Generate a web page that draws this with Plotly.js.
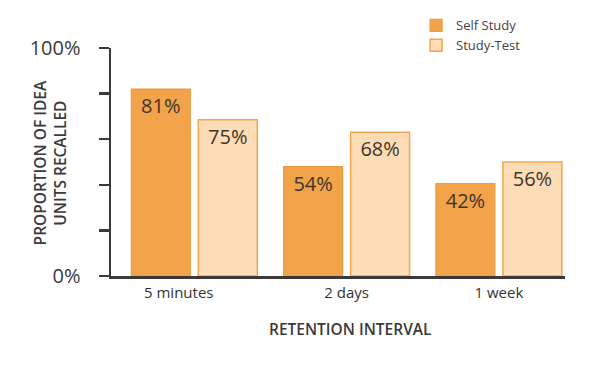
<!DOCTYPE html>
<html>
<head>
<meta charset="utf-8">
<script src="https://cdn.plot.ly/plotly-3.0.1.min.js"></script>
<style>html,body{margin:0;padding:0;background:#fff;}#chart{width:599px;height:365px;}</style>
</head>
<body>
<div id="chart"></div>
<script>
// Data
const categories = ["5 minutes", "2 days", "1 week"];
const seriesNames = ["Self Study", "Study-Test"];
const selfStudyHeights = [82, 48, 40.5];
const studyTestHeights = [68.5, 63, 50];
const selfStudyLabels = ["81%", "54%", "42%"];
const studyTestLabels = ["75%", "68%", "56%"];
const yTickVals = [0, 20, 40, 60, 80, 100];
const yTickText = ["0%", "", "", "", "", "100%"];

const labelFont = {family: "Open Sans, sans-serif", size: 20, color: "#3e352c"};

const traces = [
  {
    type: "bar", name: seriesNames[0], x: categories, y: selfStudyHeights,
    text: selfStudyLabels, textposition: "inside", insidetextanchor: "end",
    textangle: 0, insidetextfont: labelFont, hoverinfo: "none",
    marker: {color: "#F3A349", line: {color: "#EE9B3F", width: 1.2}}
  },
  {
    type: "bar", name: seriesNames[1], x: categories, y: studyTestHeights,
    text: studyTestLabels, textposition: "inside", insidetextanchor: "end",
    textangle: 0, insidetextfont: labelFont, hoverinfo: "none",
    marker: {color: "#FEDCB6", line: {color: "#F2A64E", width: 1.5}}
  }
];

const layout = {
  width: 599, height: 365,
  margin: {l: 111, r: 34, t: 47, b: 89},
  paper_bgcolor: "#fff", plot_bgcolor: "#fff",
  font: {family: "Open Sans, sans-serif", color: "#3a3a3a"},
  barmode: "group", bargap: 0.12, bargroupgap: 0.12,
  showlegend: true,
  legend: {x: 0.672, xanchor: "left", y: 1.16, yanchor: "top",
           font: {size: 13, color: "#444"}, tracegroupgap: 0,
           bgcolor: "rgba(0,0,0,0)"},
  xaxis: {
    type: "category", range: [-0.547, 2.434],
    showline: true, linecolor: "#3a3a3a", linewidth: 2.5,
    ticks: "", showgrid: false, zeroline: false,
    tickfont: {size: 15, color: "#333"},
    ticktext: ["5 minutes\u00A0\u00A0\u00A0\u00A0\u00A0\u00A0\u00A0\u00A0", "2 days", "1 week"],
    tickvals: categories, ticklabelstandoff: 1
  },
  yaxis: {
    range: [0, 100], showline: true, linecolor: "#3a3a3a", linewidth: 2.5,
    ticks: "outside", ticklen: 10, tickwidth: 2.5, tickcolor: "#3a3a3a",
    tickvals: yTickVals, ticktext: yTickText,
    tickfont: {size: 20, color: "#3a3a3a"},
    showgrid: false, zeroline: false, ticklabelstandoff: 14
  },
  annotations: [
    {text: "RETENTION INTERVAL", xref: "paper", yref: "paper", x: 0.526, y: -0.231,
     xanchor: "center", yanchor: "middle", showarrow: false,
     font: {size: 15.5, color: "#3a3a3a", weight: 600}},
    {text: "PROPORTION OF IDEA<br>UNITS RECALLED", xref: "paper", yref: "paper", x: -0.135, y: 0.497,
     xanchor: "center", yanchor: "middle", showarrow: false, textangle: -90,
     font: {size: 15.5, color: "#3a3a3a", weight: 600}}
  ]
};

Plotly.newPlot("chart", traces, layout, {displayModeBar: false, staticPlot: true});
</script>
</body>
</html>
